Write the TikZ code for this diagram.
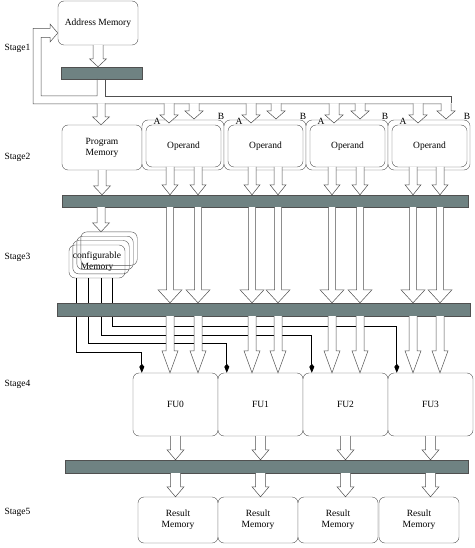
\documentclass[tikz,border=0pt]{standalone}
\usepackage{fontspec}
\setmainfont{Liberation Serif}
\usetikzlibrary{calc,arrows.meta}

\definecolor{busgray}{RGB}{111,130,130}
\definecolor{edgegray}{RGB}{80,80,80}

\begin{document}
\begin{tikzpicture}[x=1pt,y=-1pt,font=\fontsize{9.5}{11}\selectfont]
	\tikzset{
	  box/.style={draw=edgegray, rounded corners=6pt, fill=white, align=center, inner sep=1pt},
	  bar/.style={draw=edgegray, fill=busgray, minimum height=12pt, inner sep=0pt},
	  hs/.store in=\hs, hw/.store in=\hw, hl/.store in=\hl,
	  hs=4.5pt, hw=8.5pt, hl=9pt,
	  hollow/.style={draw=edgegray, fill=white, line width=.5pt,
	    to path={let \p1=(\tikztostart), \p2=(\tikztotarget) in
	      (\x1-\hs,\y1) -- (\x1-\hs,\y2+\hl) -- (\x1-\hw,\y2+\hl) -- (\x1,\y2)
	      -- (\x1+\hw,\y2+\hl) -- (\x1+\hs,\y2+\hl) -- (\x1+\hs,\y1)}},
	  wire/.style={draw=black, line width=.8pt, -{Kite[length=9pt,width=5pt,inset=3pt]}}
	}
	\useasboundingbox (0,0) rectangle (474,548);

	% stage labels
	\node[anchor=west] (s1) at (1,48) {Stage1};
	\node[anchor=west] (s2) at (1,157) {Stage2};
	\node[anchor=west] (s3) at (1,257) {Stage3};
	\node[anchor=west] (s4) at (1,384) {Stage4};
	\node[anchor=west] (s5) at (1,512) {Stage5};

	% stage 1
	\node[box, minimum width=80pt, minimum height=44pt] (am) at (98,23) {Address Memory};
	\node[bar, minimum width=81pt] (bar1) at (101.5,73) {};
	\draw[hollow, hs=5pt, hl=8pt] (am.south) to (bar1.north);
	\coordinate (fb) at ([yshift=-10pt]am.west);

	% stage 2
	\node[box, minimum width=80pt, minimum height=45pt] (pm) at (102,147.5) {Program\\Memory};
	\foreach \i/\L in {1/142,2/224,3/306,4/388}{
	  \node[box, minimum width=82pt, minimum height=50pt] (opo\i) at (\L+41,145) {};
	  \node[box, minimum width=75pt, minimum height=42pt] (op\i) at (\L+41.5,146) {Operand};
	  \node[inner sep=0pt] (a\i) at (\L+15,121) {A};
	  \node[inner sep=0pt] (b\i) at (\L+79,116) {B};
	}

	% operand bus
	\draw[edgegray, line width=.5pt] (97,79) -- (97,96) -- (41,96) -- (41,37.5) -- (50,37.5) -- (50,42)
	  -- (fb) -- (50,24) -- (50,28.5) -- (33,28.5) -- (33,104) -- (441,104);
	\draw[edgegray, line width=.5pt] (105,79) -- (105,96) -- (451,96) -- (451,103.5);
	\draw[hollow, hs=4pt, hl=8pt] (101,103.5) to (pm.north);
	\foreach \a/\b in {169/194, 251/276, 334/360, 418/446}{
	  \draw[hollow, hs=5pt, hw=9pt, hl=8pt] (\a,103.5) to (\a,123);
	  \draw[hollow, hs=5pt, hw=9pt, hl=8pt] (\b,103.5) to (\b,119);
	}

	\node[bar, minimum width=406pt] (bar2) at (265,201) {};
	\draw[hollow, hs=4pt, hl=9pt] (pm.south) to (bar2.north);

	% stage 3
	\node[box, fill=none, minimum width=56pt, minimum height=33pt] (cm) at (97,261.5) {configurable\\Memory};
	\foreach \k in {1,2,3}
	  \draw[edgegray, rounded corners=6pt] ($(cm.south west)+(4*\k,-4.3*\k)$) rectangle ($(cm.north east)+(4*\k,-4.3*\k)$);
	\draw[hollow, hs=4pt, hl=9pt] (101,207) to ([yshift=13pt]cm.north);

	% stage 4
	\foreach \i/\L in {0/133,1/218,2/303,3/388}
	  \node[box, minimum width=85pt, minimum height=63pt] (fu\i) at (\L+42.5,404.5) {FU\i};
	\foreach \i/\dx/\yy in {0/8/352, 1/20/343, 2/33/335, 3/44/326}
	  \draw[wire] ([xshift=\dx pt]cm.south west) -- ++(0,\yy-278) -| ([xshift=9pt]fu\i.north west);

	\node[bar, minimum width=413pt, minimum height=13pt] (bar3) at (263.5,309.5) {};
	\foreach \i/\c/\d in {1/170/198, 2/252/278, 3/332/360, 4/413/440}{
	  \draw[hollow, hs=4pt, hw=8pt, hl=10pt] (\c,167) to (bar2.north);
	  \draw[hollow, hs=4pt, hw=8pt, hl=10pt] (\d,167) to (bar2.north);
	  \draw[hollow, hs=3.5pt, hw=12pt, hl=13pt] (\c,207) to (bar3.north);
	  \draw[hollow, hs=3.5pt, hw=12pt, hl=13pt] (\d,207) to (bar3.north);
	  \draw[hollow, hs=4pt, hw=8pt, hl=22pt] (\c,316) to (fu0.north);
	  \draw[hollow, hs=4pt, hw=8pt, hl=22pt] (\d,316) to (fu0.north);
	}

	% stage 5
	\node[bar, minimum width=403pt, minimum height=13pt] (bar4) at (266.5,466.5) {};
	\foreach \i/\L in {0/138,1/218,2/298,3/379}{
	  \node[box, minimum width=80pt, minimum height=46pt] (rm\i) at (\L+40,520) {Result\\Memory};
	  \draw[hollow, hs=5pt, hl=10pt] (fu\i.south) to (bar4.north);
	  \draw[hollow, hs=5pt, hl=10pt] (fu\i.south |- bar4.south) to (rm\i.north);
	}
\end{tikzpicture}
\end{document}
